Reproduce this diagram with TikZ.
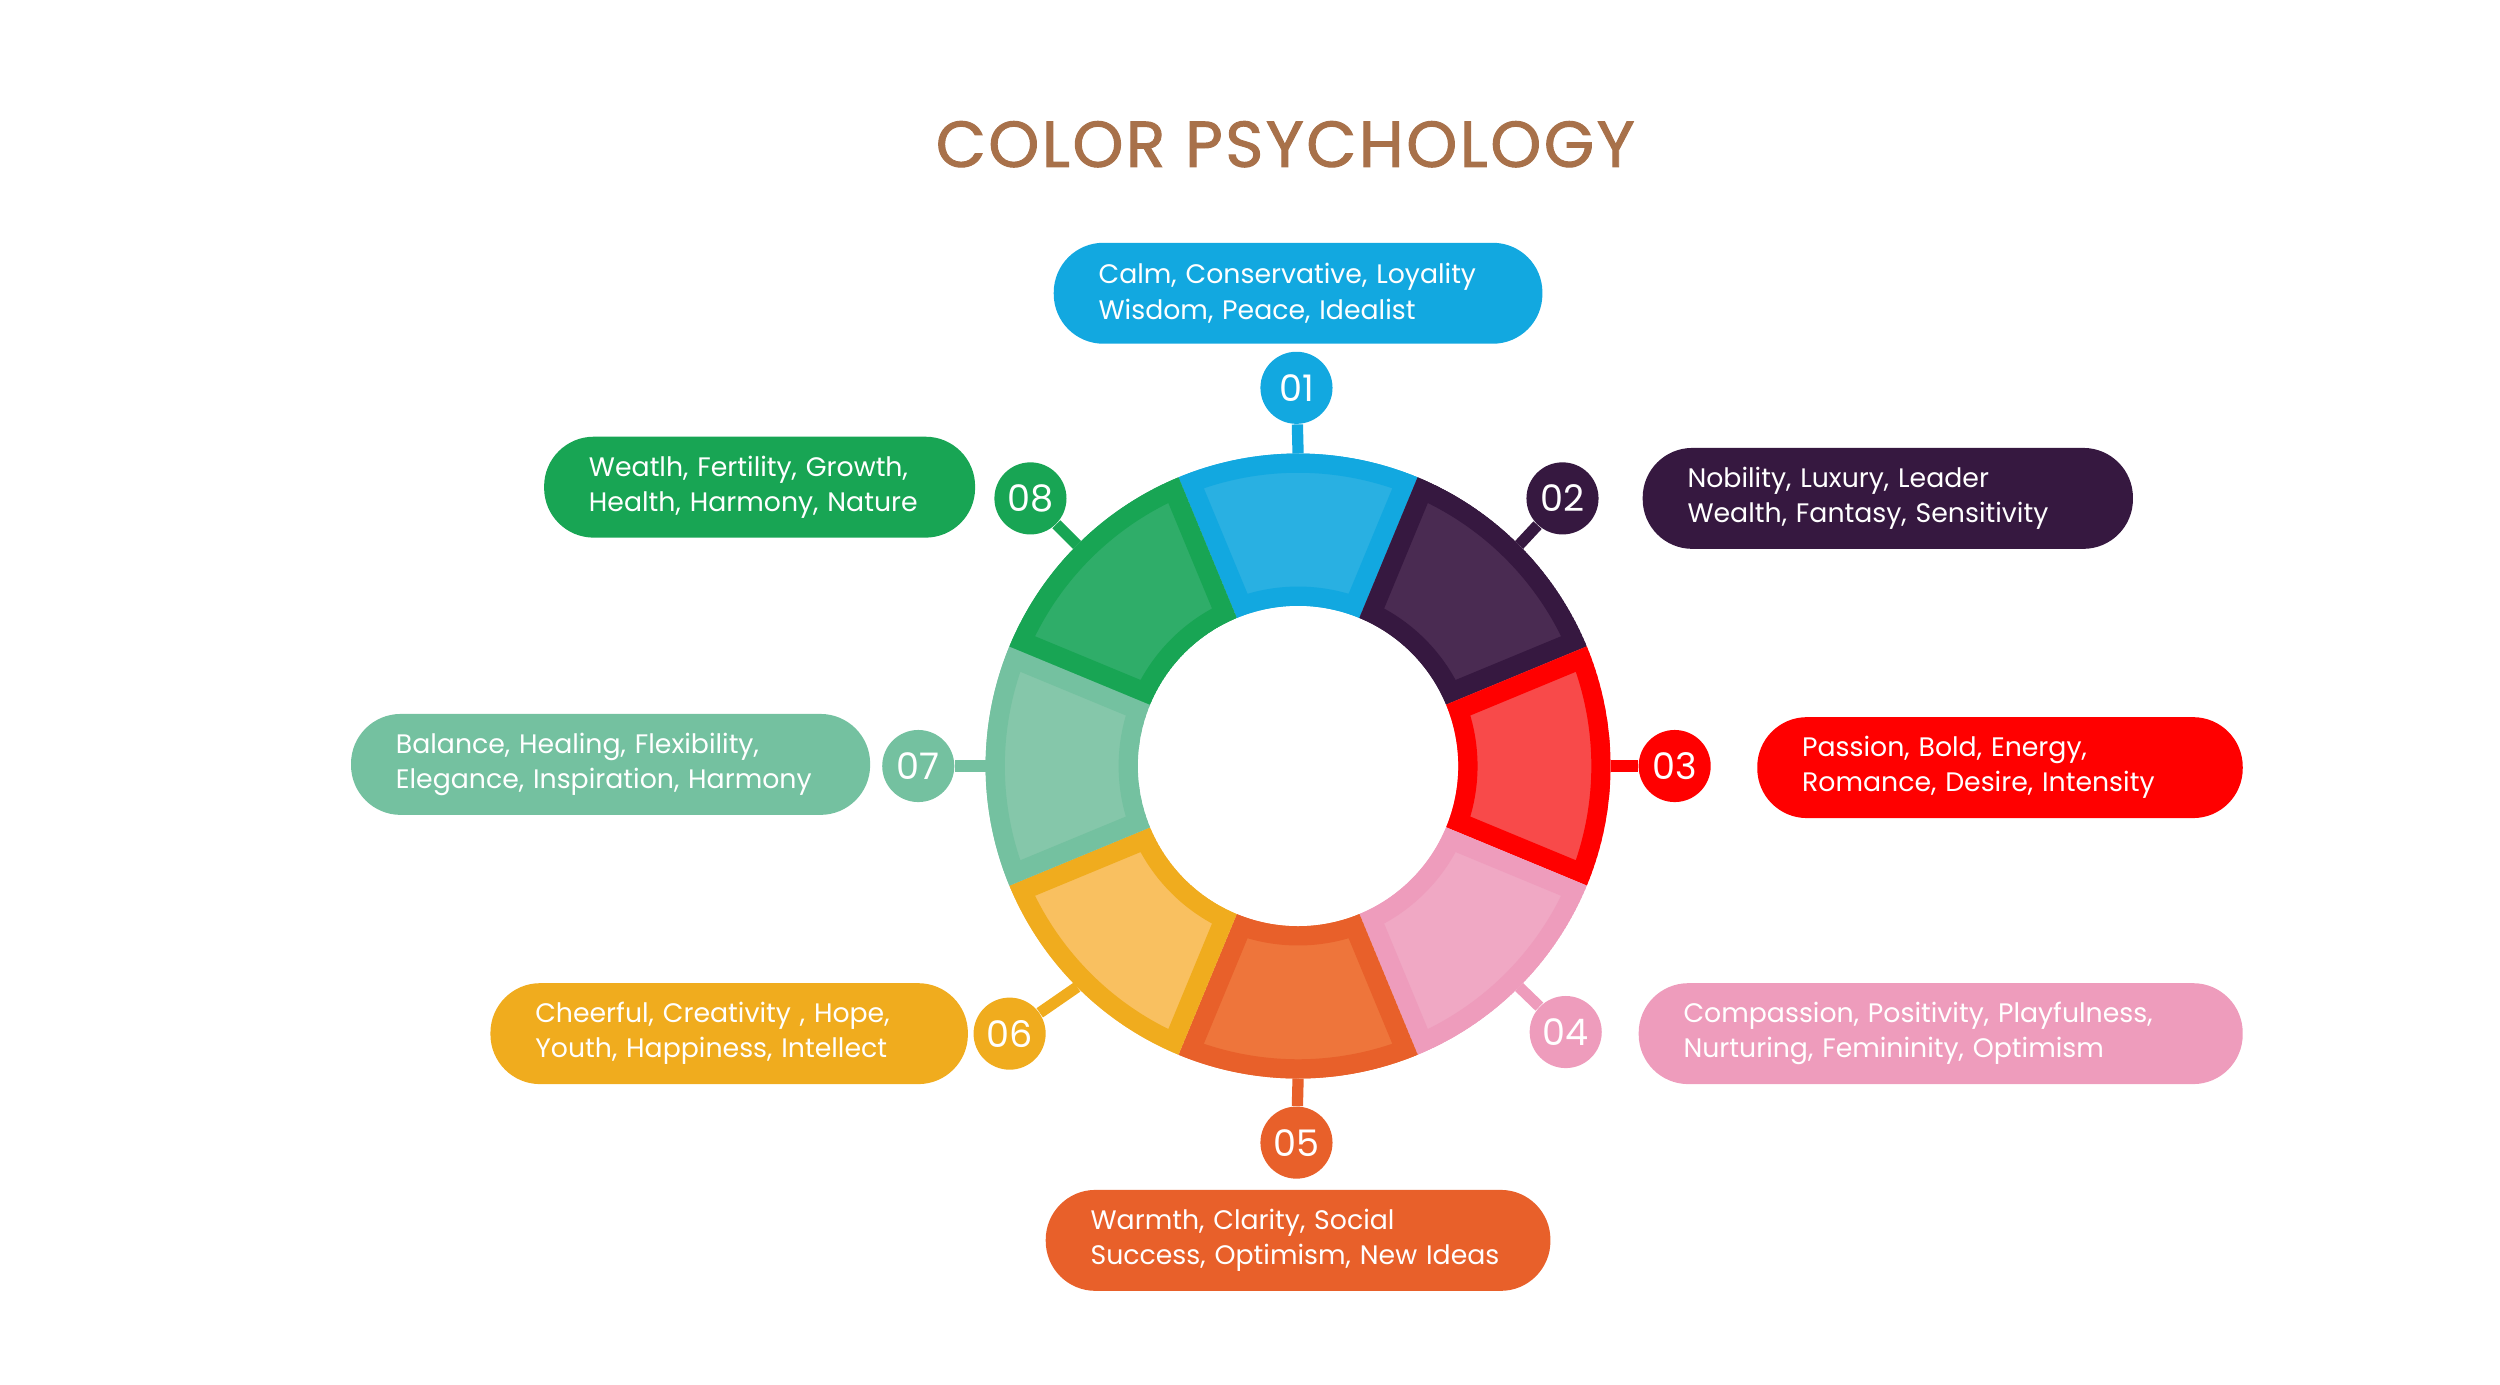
\documentclass[tikz,border=0pt]{standalone}
\usepackage{fontspec}
\setmainfont{Poppins}
\usetikzlibrary{positioning,calc}
\definecolor{titleBrown}{HTML}{A8714A}
\definecolor{bdA}{HTML}{12A8E0}\definecolor{fiA}{HTML}{29B0E2}
\definecolor{bdB}{HTML}{361840}\definecolor{fiB}{HTML}{4A2B52}
\definecolor{bdC}{HTML}{FF0000}\definecolor{fiC}{HTML}{F84A4A}
\definecolor{bdD}{HTML}{EE9CBC}\definecolor{fiD}{HTML}{F0A8C4}
\definecolor{bdE}{HTML}{E8602A}\definecolor{fiE}{HTML}{EE753B}
\definecolor{bdF}{HTML}{F0AC1E}\definecolor{fiF}{HTML}{F9C060}
\definecolor{bdG}{HTML}{74C1A0}\definecolor{fiG}{HTML}{85C7AA}
\definecolor{bdH}{HTML}{18A554}\definecolor{fiH}{HTML}{2FAD69}
\begin{document}
\begin{tikzpicture}[x=0.02cm, y=-0.02cm,
    numStyle/.style={circle, minimum size=0.9cm, inner sep=0pt, text=white, font=\fontsize{13}{13}\selectfont},
    pillStyle/.style={rounded corners=0.62cm, minimum height=1.26cm, inner sep=0pt, text=white, align=left, font=\fontsize{9.5}{12.5}\selectfont},
    stemStyle/.style={line width=4pt}]
  \useasboundingbox (0,0) rectangle (1560,864);
  \node[text=titleBrown, font=\fontsize{23}{23}\selectfont\addfontfeature{LetterSpace=4,FakeBold=1.5}] (title) at (802,90) {COLOR PSYCHOLOGY};
  % ring segments
  \foreach \ang/\cl [count=\i] in {90/A,45/B,0/C,-45/D,-90/E,-135/F,180/G,135/H}{
    \begin{scope}
      \clip ($(810,478)+(\ang-22.5:195 and -195)$) arc[start angle=\ang-22.5, end angle=\ang+22.5, x radius=195, y radius=-195]
        -- ($(810,478)+(\ang+22.5:100 and -100)$) arc[start angle=\ang+22.5, end angle=\ang-22.5, x radius=100, y radius=-100] -- cycle;
      \filldraw[fill=fi\cl, draw=bd\cl, line width=0.48cm] ($(810,478)+(\ang-22.5:195 and -195)$) arc[start angle=\ang-22.5, end angle=\ang+22.5, x radius=195, y radius=-195]
        -- ($(810,478)+(\ang+22.5:100 and -100)$) arc[start angle=\ang+22.5, end angle=\ang-22.5, x radius=100, y radius=-100] -- cycle;
    \end{scope}
    \coordinate (ring\i) at ($(810,478)+(\ang:195 and -195)$);
  }
  % numbers
  \node[numStyle, fill=bdA] (n1) at (809,242) {01};
  \node[numStyle, fill=bdB] (n2) at (975,311) {02};
  \node[numStyle, fill=bdC] (n3) at (1045,478) {03};
  \node[numStyle, fill=bdD] (n4) at (977,644) {04};
  \node[numStyle, fill=bdE] (n5) at (809,713) {05};
  \node[numStyle, fill=bdF] (n6) at (630,645) {06};
  \node[numStyle, fill=bdG] (n7) at (573,478) {07};
  \node[numStyle, fill=bdH] (n8) at (643,311) {08};
  \foreach \i/\cl in {1/A,2/B,3/C,4/D,5/E,6/F,7/G,8/H}
    \draw[stemStyle, draw=bd\cl] (ring\i) -- (n\i);
  % labels
  \node[pillStyle, fill=bdA, minimum width=6.1cm, text width=4.98cm] (p1) at (810,183) {Calm, Conservative, Loyality\\Wisdom, Peace, Idealist};
  \node[pillStyle, fill=bdB, minimum width=6.12cm, text width=5.0cm] (p2) at (1178,311) {Nobility, Luxury, Leader\\Wealth, Fantasy, Sensitivity};
  \node[pillStyle, fill=bdC, minimum width=6.06cm, text width=4.94cm] (p3) at (1248,479) {Passion, Bold, Energy,\\Romance, Desire, Intensity};
  \node[pillStyle, fill=bdD, minimum width=7.54cm, text width=6.42cm] (p4) at (1211,645) {Compassion, Positivity, Playfulness,\\Nurturing, Femininity, Optimism};
  \node[pillStyle, fill=bdE, minimum width=6.3cm, text width=5.18cm] (p5) at (810,774) {Warmth, Clarity, Social\\Success, Optimism, New Ideas};
  \node[pillStyle, fill=bdF, minimum width=5.96cm, text width=4.84cm] (p6) at (455,645) {Cheerful, Creativity , Hope,\\Youth, Happiness, Intellect};
  \node[pillStyle, fill=bdG, minimum width=6.48cm, text width=5.36cm] (p7) at (381,477) {Balance, Healing, Flexibility,\\Elegance, Inspiration, Harmony};
  \node[pillStyle, fill=bdH, minimum width=5.38cm, text width=4.26cm] (p8) at (474,304) {Weatlh, Fertility, Growth,\\Health, Harmony, Nature};
\end{tikzpicture}
\end{document}
